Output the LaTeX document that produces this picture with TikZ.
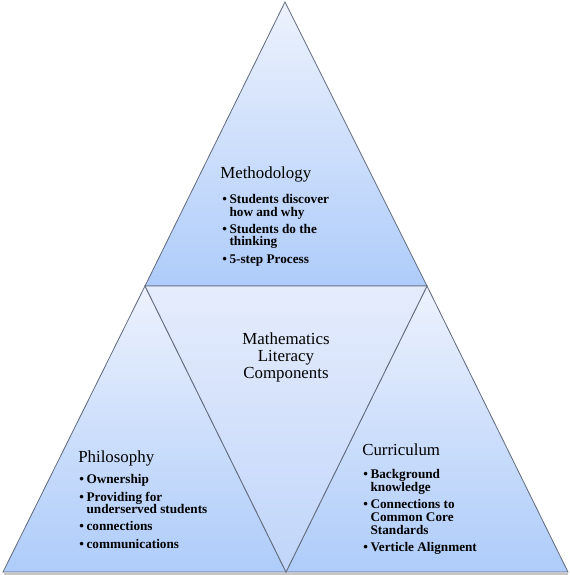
\documentclass[tikz,border=0pt]{standalone}
\usepackage{fontspec}
\setmainfont{Liberation Serif}
\usetikzlibrary{positioning,calc}
\definecolor{trilight}{RGB}{237,242,253}
\definecolor{triblue}{RGB}{174,204,250}
\definecolor{midlight}{RGB}{229,236,252}
\definecolor{midblue}{RGB}{192,213,250}
\definecolor{triedge}{RGB}{100,110,128}
\newcommand{\bul}{\makebox[0.55em][l]{\textbullet}}
\newcommand{\hang}{\hspace*{0.55em}}

\begin{document}
\begin{tikzpicture}[x=0.025cm,y=-0.025cm,
  tri/.style={draw=triedge,line width=0.6pt,line join=miter,top color=trilight,bottom color=triblue},
  midtri/.style={draw=triedge,line width=0.6pt,line join=miter,top color=midlight,bottom color=midblue},
  head/.style={anchor=base west,inner sep=0pt,font=\fontsize{12}{14}\selectfont},
  items/.style={anchor=north west,inner sep=0pt,align=left,font=\fontsize{9.4}{9}\selectfont\bfseries},
  title/.style={anchor=north,inner sep=0pt,align=center,font=\fontsize{12}{12}\selectfont}]
\useasboundingbox (0,0) rectangle (570,575);
% corners of the big triangle
\coordinate (apex) at (285,2);
\coordinate (ml) at (145,286);
\coordinate (mr) at (427,286);
\coordinate (bl) at (3,572);
\coordinate (bm) at (286,572);
\coordinate (br) at (568,572);
% soft shadow under the base
\fill[gray!45] ($(bl)+(1,1)$) rectangle ($(br)+(0,2.5)$);
% the four triangles
\path[tri] (apex) -- (mr) -- (ml) -- cycle;
\path[tri] (ml) -- (bm) -- (bl) -- cycle;
\path[tri] (mr) -- (br) -- (bm) -- cycle;
\path[midtri] (ml) -- (mr) -- (bm) -- cycle;
% top: methodology
\node[head] (meth) at (220,178) {Methodology};
\node[items] (methlist) at (222,194) {\bul Students discover\\ \hang how and why\\[3.2pt]
  \bul Students do the\\ \hang thinking\\[3.2pt]
  \bul 5-step Process};
% centre
\node[title] (centre) at (286,333) {Mathematics\\ Literacy\\ Components};
% left: philosophy
\node[head] (phil) at (78,462) {Philosophy};
\node[items] (phillist) at (79,474.5) {\bul Ownership\\[3.2pt]
  \bul Providing for\\ \hang underserved students\\[3.2pt]
  \bul connections\\[3.2pt]
  \bul communications};
% right: curriculum
\node[head] (curr) at (362,455) {Curriculum};
\node[items] (currlist) at (363,469.5) {\bul Background\\ \hang knowledge\\[3.2pt]
  \bul Connections to\\ \hang Common Core\\ \hang Standards\\[3.2pt]
  \bul Verticle Alignment};
\end{tikzpicture}
\end{document}
